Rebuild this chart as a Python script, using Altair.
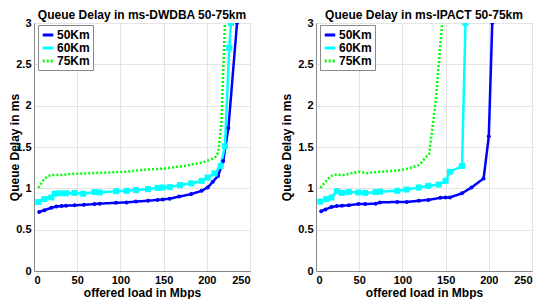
import altair as alt
import pandas as pd

series_names = ["50Km", "60Km", "75Km"]
series_colors = ["#0000ff", "#00ffff", "#00ff00"]
series_dash = [[1, 0], [1, 0], [2, 2]]

x_ticks = [0, 50, 100, 150, 200, 250]
y_ticks = [0, 0.5, 1, 1.5, 2, 2.5, 3]

# DWDBA panel
L50_x = [6, 12, 20, 26, 32, 37, 47, 58, 70, 76, 95, 107, 118, 132, 143, 149, 157, 168, 182, 194, 201, 207, 213, 219, 225, 235]
L50_y = [0.715, 0.735, 0.765, 0.78, 0.785, 0.79, 0.795, 0.80, 0.81, 0.815, 0.825, 0.83, 0.84, 0.85, 0.86, 0.865, 0.875, 0.90, 0.93, 0.97, 1.01, 1.08, 1.15, 1.33, 1.73, 3.0]
L60_x = [5, 12, 20, 24, 30, 37, 47, 57, 70, 76, 95, 107, 118, 132, 143, 149, 157, 169, 182, 194, 201, 209, 216, 221, 226, 228]
L60_y = [0.835, 0.87, 0.89, 0.935, 0.94, 0.94, 0.945, 0.935, 0.955, 0.95, 0.965, 0.97, 0.98, 0.99, 1.005, 1.01, 1.015, 1.04, 1.06, 1.09, 1.13, 1.18, 1.27, 1.51, 2.7, 3.0]
L75_x = [5, 10, 16, 22, 32, 43, 59, 82, 105, 128, 151, 174, 194, 205, 210, 213, 215, 217, 219, 221]
L75_y = [1.005, 1.09, 1.15, 1.16, 1.16, 1.175, 1.18, 1.19, 1.20, 1.225, 1.24, 1.27, 1.31, 1.35, 1.38, 1.43, 1.6, 1.8, 2.4, 3.0]

# IPACT panel
R50_x = [6, 11, 18, 24, 30, 38, 49, 57, 69, 74, 94, 105, 119, 130, 144, 150, 155, 169, 180, 194, 200, 204]
R50_y = [0.723, 0.745, 0.775, 0.785, 0.79, 0.795, 0.81, 0.81, 0.815, 0.83, 0.835, 0.835, 0.85, 0.86, 0.885, 0.89, 0.89, 0.94, 1.01, 1.12, 1.63, 3.0]
R60_x = [5, 12, 18, 24, 30, 38, 49, 57, 69, 74, 94, 105, 119, 130, 142, 150, 155, 169, 173]
R60_y = [0.84, 0.87, 0.89, 0.965, 0.945, 0.955, 0.95, 0.945, 0.955, 0.96, 0.97, 0.985, 1.01, 1.03, 1.045, 1.09, 1.2, 1.27, 3.0]
R75_x = [5, 11, 17, 22, 32, 49, 59, 74, 94, 105, 119, 126, 131, 135, 139, 142, 146]
R75_y = [1.005, 1.08, 1.15, 1.165, 1.16, 1.2, 1.185, 1.2, 1.215, 1.235, 1.28, 1.36, 1.42, 1.75, 2.1, 2.5, 3.0]

titles = ["Queue Delay in ms-DWDBA 50-75km", "Queue Delay in ms-IPACT 50-75km"]
FONT = "Liberation Sans"


def make_df(xs_list, ys_list):
    rows = []
    for name, xs, ys in zip(series_names, xs_list, ys_list):
        for i, (x, y) in enumerate(zip(xs, ys)):
            rows.append({"series": name, "x": x, "y": y, "idx": i})
    return pd.DataFrame(rows)


def panel(df, title, ytitle_pad):
    base = alt.Chart(df)
    xenc = alt.X("x:Q", scale=alt.Scale(domain=[0, 250], nice=False),
                 axis=alt.Axis(values=x_ticks, title="offered load in Mbps", titlePadding=2))
    yenc = alt.Y("y:Q", scale=alt.Scale(domain=[0, 3], nice=False),
                 axis=alt.Axis(values=y_ticks, labelExpr="'' + datum.value",
                               title="Queue Delay in ms", titlePadding=ytitle_pad))
    leg = alt.Legend(orient="none", legendX=4, legendY=2, title=None,
                     symbolType="stroke", symbolSize=110, symbolStrokeWidth=3,
                     fillColor="white", strokeColor="#888888", padding=3,
                     labelFont=FONT, labelFontSize=12, labelFontWeight="bold",
                     labelOffset=2, rowPadding=0)
    line = base.mark_line(clip=True, strokeWidth=2.5).encode(
        x=xenc, y=yenc,
        color=alt.Color("series:N", scale=alt.Scale(domain=series_names, range=series_colors), legend=leg),
        strokeDash=alt.StrokeDash("series:N", scale=alt.Scale(domain=series_names, range=series_dash), legend=leg),
        order="idx:Q",
    )
    p50 = base.transform_filter(alt.datum.series == "50Km").mark_circle(
        size=16, color="#0000ff", opacity=1, clip=True).encode(x="x:Q", y="y:Q")
    p60 = base.transform_filter(alt.datum.series == "60Km").mark_square(
        size=36, color="#00ffff", opacity=1, clip=True).encode(x="x:Q", y="y:Q")
    return alt.layer(line, p50, p60).properties(
        width=216, height=248,
        title=alt.TitleParams(title, fontSize=12, fontWeight="bold", font=FONT, offset=-5, anchor="middle"),
    )


left = panel(make_df([L50_x, L60_x, L75_x], [L50_y, L60_y, L75_y]), titles[0], -6)
right = panel(make_df([R50_x, R60_x, R75_x], [R50_y, R60_y, R75_y]), titles[1], 4)

chart = alt.hconcat(left, right, spacing=29).resolve_scale(
    color="independent", strokeDash="independent"
).properties(
    padding={"left": 0, "top": 0, "right": 0, "bottom": 0}
).configure_axis(
    labelFont=FONT, labelFontSize=11, labelFontWeight="bold", labelColor="black",
    titleFont=FONT, titleFontSize=12, titleFontWeight="bold", titleColor="black",
    gridColor="#e4e4e4", domainColor="#888888", ticks=False, labelPadding=3,
).configure_view(stroke="#888888", strokeWidth=1)

chart.save("out.html", embed_options={"renderer": "svg", "actions": False})
